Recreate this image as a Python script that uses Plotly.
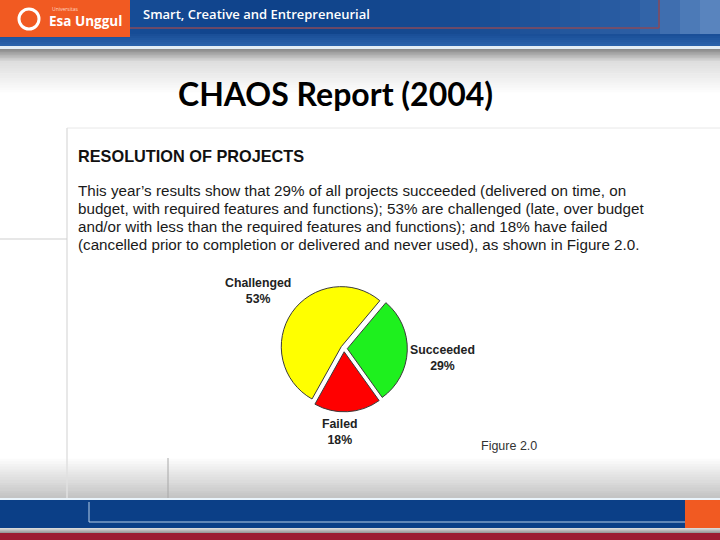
import plotly.graph_objects as go

# ---- data ----
categories = ["Succeeded", "Failed", "Challenged"]
percentages = [29, 18, 53]
slice_colors = ["#1ef01e", "#ff0000", "#ffff00"]

slide_title = "CHAOS Report (2004)"
header_tagline = "Smart, Creative and Entrepreneurial"
brand_name = "Esa Unggul"
doc_heading = "RESOLUTION OF PROJECTS"
doc_lines = [
    "This year\u2019s results show that 29% of all projects succeeded (delivered on time, on",
    "budget, with required features and functions); 53% are challenged (late, over budget",
    "and/or with less than the required features and functions); and 18% have failed",
    "(cancelled prior to completion or delivered and never used), as shown in Figure 2.0.",
]
figure_caption = "Figure 2.0"

W, H = 720, 540


def px(x):
    return x / W


def py(y):
    return 1 - y / H


def hex2rgb(h):
    h = h.lstrip("#")
    return tuple(int(h[i:i + 2], 16) for i in (0, 2, 4))


def lerp_color(c1, c2, t):
    a, b = hex2rgb(c1), hex2rgb(c2)
    return "rgb(%d,%d,%d)" % tuple(round(a[i] + (b[i] - a[i]) * t) for i in range(3))


shapes = []


def rect(x0, y0, x1, y1, color, line=None):
    shapes.append(dict(type="rect", xref="paper", yref="paper",
                       x0=px(x0), x1=px(x1), y0=py(y1), y1=py(y0),
                       fillcolor=color, line=dict(width=0) if line is None else line,
                       layer="below"))


def vgrad(x0, y0, x1, y1, c0, c1, n=12):
    step = (y1 - y0) / n
    for i in range(n):
        rect(x0, y0 + i * step, x1, y0 + (i + 1) * step + 0.6, lerp_color(c0, c1, i / max(n - 1, 1)))


def hgrad_stops(y0, y1, stops, n=36):
    step = W / n
    for i in range(n):
        xm = (i + 0.5) * step
        col = stops[-1][1]
        for j in range(len(stops) - 1):
            if stops[j][0] <= xm <= stops[j + 1][0]:
                t = (xm - stops[j][0]) / (stops[j + 1][0] - stops[j][0])
                col = lerp_color(stops[j][1], stops[j + 1][1], t)
                break
        rect(i * step, y0, (i + 1) * step + 0.6, y1, col)


def line(x0, y0, x1, y1, color, width=1):
    shapes.append(dict(type="line", xref="paper", yref="paper",
                       x0=px(x0), x1=px(x1), y0=py(y0), y1=py(y1),
                       line=dict(color=color, width=width), layer="below"))


# ---- header ----
hgrad_stops(0, 46, [(0, "#1f58a2"), (260, "#0e4189"), (480, "#184d94"), (640, "#2c5ea4"), (720, "#5f8ac2")])
vgrad(0, 34, 720, 46, "#1a4f98", "#2a62ab", n=6)
rect(0, 0, 130, 37, "#f15a22")
line(130, 28, 659, 28, "#8a4a5a", 1.5)
line(659, 0, 659, 28, "#8a4a5a", 1.5)
rect(0, 46, 720, 49, "#e4edf5")
vgrad(0, 49, 720, 61, "#8c8c8c", "#d4d4d4", n=8)
vgrad(0, 61, 720, 95, "#dedede", "#ffffff", n=14)
# logo ring
shapes.append(dict(type="circle", xref="paper", yref="paper",
                   x0=px(19), x1=px(39), y0=py(29), y1=py(9),
                   line=dict(color="white", width=3), layer="above"))

# ---- footer ----
vgrad(0, 456, 720, 498, "#ffffff", "#c4c4c4", n=16)
line(168, 458, 168, 498, "#a8a8a8", 1)
rect(0, 498, 720, 500, "#eaf4fb")
rect(0, 500, 720, 528, "#0b3f87")
line(89, 502, 89, 522, "#b8d0e8", 1)
line(89, 522, 685, 522, "#b8d0e8", 1)
rect(685, 500, 720, 528, "#f15a22")
vgrad(0, 528, 720, 533, "#d8d8d8", "#9a9a9a", n=4)
rect(0, 533, 720, 540, "#9c1c32")

# ---- document area ----
line(67, 128, 720, 128, "#e8e8e8", 1)
line(67, 128, 67, 498, "#e0e0e0", 1.5)
line(0, 239, 67, 239, "#cfcfcf", 1)

# ---- pie ----
cx, cy, R = 344, 348.5, 63.3
pie = go.Pie(
    labels=categories,
    values=percentages,
    sort=False,
    direction="clockwise",
    rotation=40,
    pull=[0.055, 0.055, 0.055],
    marker=dict(colors=slice_colors, line=dict(color="#3a3a3a", width=1)),
    textinfo="none",
    domain=dict(x=[px(cx - R), px(cx + R)], y=[py(cy + R), py(cy - R)]),
    showlegend=False,
    hoverinfo="skip",
)

fig = go.Figure(pie)

annotations = []


def text(x, y, s, size, color="#000", family="Liberation Sans, Arial, sans-serif",
         xanchor="left", weight="normal", align="left"):
    annotations.append(dict(xref="paper", yref="paper", x=px(x), y=py(y), text=s,
                            showarrow=False, xanchor=xanchor, yanchor="middle", align=align,
                            font=dict(size=size, color=color, family=family, weight=weight)))


# slice labels (outside), placed beside each slice
label_pos = {"Challenged": (258, 291), "Succeeded": (442, 358), "Failed": (340, 432)}
for name, pct in zip(categories, percentages):
    lx, ly = label_pos[name]
    text(lx, ly, "<b>%s</b><br><b>%d%%</b>" % (name, pct), 12.3, "#222222",
         xanchor="center", align="center")

text(47, 21, brand_name, 13.5, "white", "Open Sans, sans-serif", weight="bold")
text(50, 9, "Universitas", 5, "#ffd9c4", "Open Sans, sans-serif")
text(141, 14, header_tagline, 13, "white", "Open Sans, sans-serif", weight=600)
text(335, 93, slide_title, 32, "#000000", "Lato, sans-serif", xanchor="center", weight="bold")
text(76, 156, doc_heading, 16.3, "#111111", weight="bold")
for i, ln in enumerate(doc_lines):
    text(76, 191 + i * 17.7, ln, 15.2, "#1a1a1a")
text(479, 446, figure_caption, 12.5, "#333333")

fig.update_layout(
    width=W, height=H,
    margin=dict(l=0, r=0, t=0, b=0),
    paper_bgcolor="white",
    shapes=shapes,
    annotations=annotations,
)

fig.write_html("out.html", config={"displayModeBar": False},
               post_script="document.body.style.margin='0';")
